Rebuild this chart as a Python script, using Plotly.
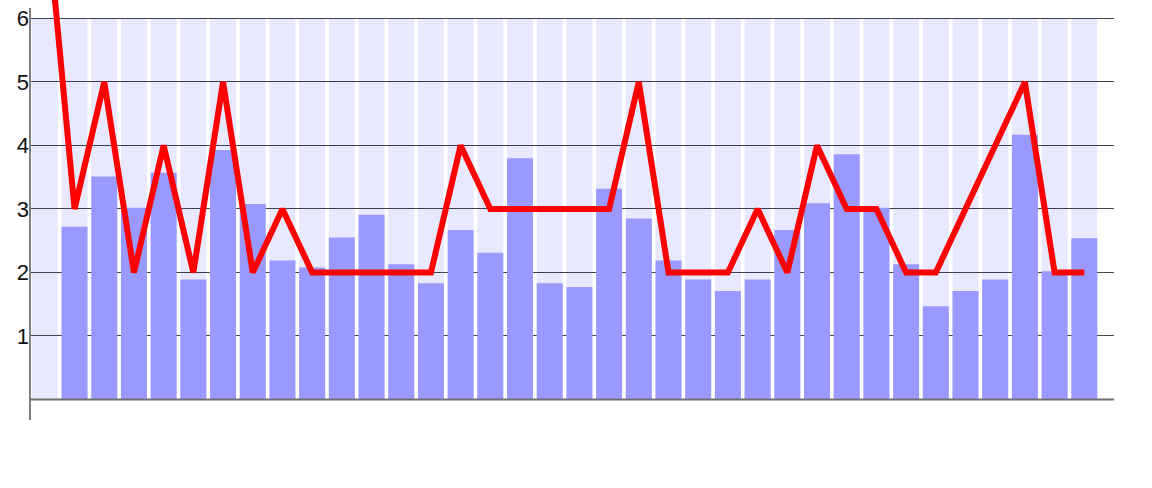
import plotly.graph_objects as go

categories = list(range(36))

background_values = [6] * 36

bar_values = [None, 2.72, 3.51, 3.02, 3.57, 1.89, 3.93, 3.08, 2.19, 2.08,
              2.55, 2.91, 2.13, 1.83, 2.67, 2.31, 3.80, 1.83, 1.77, 3.32,
              2.85, 2.19, 1.89, 1.71, 1.89, 2.67, 3.09, 3.86, 3.02, 2.13,
              1.47, 1.71, 1.89, 4.17, 2.02, 2.54]

line_values = [8, 3, 5, 2, 4, 2, 5, 2, 3, 2,
               2, 2, 2, 2, 4, 3, 3, 3, 3, 3,
               5, 2, 2, 2, 3, 2, 4, 3, 3, 2,
               2, 3, 4, 5, 2, 2]

y_ticks = [1, 2, 3, 4, 5, 6]

fig = go.Figure()
fig.add_trace(go.Bar(x=categories, y=background_values,
                     marker=dict(color="rgba(0,0,255,0.09)", line=dict(width=0)),
                     hoverinfo="skip"))
fig.add_trace(go.Bar(x=categories, y=bar_values,
                     marker=dict(color="#9999ff", line=dict(width=0))))
fig.add_trace(go.Scatter(x=categories, y=line_values, mode="lines",
                         line=dict(color="#ff0000", width=6)))

fig.update_layout(
    width=1152, height=488,
    margin=dict(l=30, r=38, t=0, b=68, pad=0, autoexpand=False),
    paper_bgcolor="white", plot_bgcolor="white",
    barmode="overlay", bargap=0.125,
    showlegend=False,
    font=dict(family="Liberation Sans, Arial, sans-serif", size=22, color="#111"),
    xaxis=dict(range=[-0.5, 36.0], showticklabels=False, showgrid=False,
               zeroline=False, showline=False, ticks="", automargin=False),
    yaxis=dict(range=[-0.323, 6.291], tickvals=y_ticks, showgrid=True,
               gridcolor="#444", gridwidth=1, zeroline=False, showline=False,
               ticks="", automargin=False,
               tickfont=dict(size=22, color="#111")),
    shapes=[
        dict(type="line", xref="paper", yref="y", x0=0, x1=0, y0=-0.323, y1=6.165,
             line=dict(color="#808080", width=2), layer="above"),
        dict(type="line", xref="paper", yref="y", x0=0, x1=1, y0=0, y1=0,
             line=dict(color="#707070", width=2), layer="above"),
    ],
)

fig.write_html("out.html",
               config={"displayModeBar": False},
               post_script="document.body.style.margin='0';document.body.style.overflow='hidden';")
